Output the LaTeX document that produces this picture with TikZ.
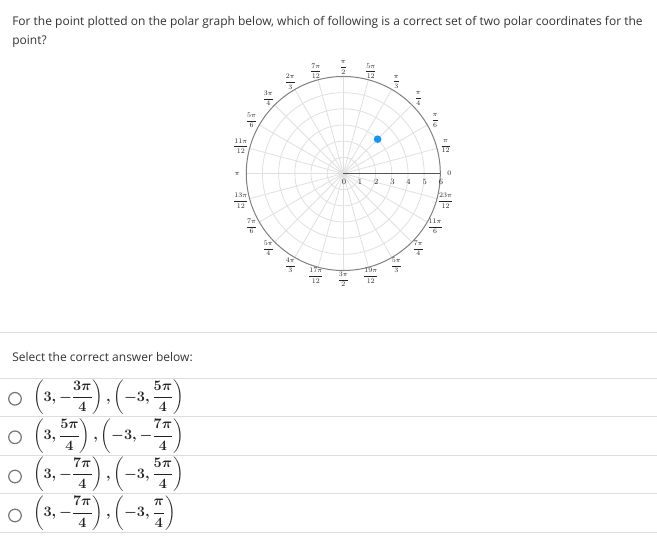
\documentclass[tikz,border=0pt]{standalone}
\usepackage{amsmath}
\usepackage[no-math]{fontspec}
\setmainfont{Open Sans}
\definecolor{txt}{HTML}{333333}
\definecolor{sepc}{HTML}{DDDDDD}
\definecolor{gridc}{HTML}{E0E0E0}
\definecolor{outerc}{HTML}{808080}
\definecolor{axisc}{HTML}{555555}
\definecolor{dotc}{RGB}{20,150,240}
\definecolor{radioc}{HTML}{777777}
\definecolor{mathc}{HTML}{222222}
\begin{document}
\begin{tikzpicture}[x=1pt,y=-1pt,
  every node/.style={inner sep=0pt, outer sep=0pt},
  qtext/.style={font=\fontsize{12}{15}\selectfont, text=txt, anchor=base west},
  sepline/.style={draw=sepc, line width=1.2pt},
  gridline/.style={draw=gridc, line width=0.8pt},
  outerline/.style={draw=outerc, line width=1pt},
  axisline/.style={draw=axisc, line width=1.4pt},
  alab/.style={font=\fontsize{7}{8}\selectfont, text=black!85},
  rlab/.style={font=\fontsize{8.5}{9}\selectfont, text=black!85},
  radio/.style={circle, draw=radioc, line width=1.2pt, minimum size=12.6pt},
  ans/.style={font=\fontsize{13.9}{16}\selectfont\boldmath, text=mathc, anchor=west}]
\useasboundingbox (0,0) rectangle (657,537);
\fill[white] (0,0) rectangle (657,537);

% question
\node[qtext] (q1) at (12.3,25.8) {For the point plotted on the polar graph below, which of following is a correct set of two polar coordinates for the};
\node[qtext] (q2) at (12.3,44.3) {point?};

% polar graph
\def\U{16.17}
\begin{scope}[shift={(343.3,173.5)}, yscale=-1]
  \foreach \r in {1,...,5} \draw[gridline] (0,0) circle[radius=\r*\U];
  \foreach \a in {0,15,...,345} \draw[gridline] (0,0) -- (\a:6*\U);
  \draw[outerline] (0,0) circle[radius=6*\U];
  \draw[axisline] (0,0) -- (0:6*\U);
  \foreach \a/\t in {0/0, 15/{\dfrac{\pi}{12}}, 30/{\dfrac{\pi}{6}}, 45/{\dfrac{\pi}{4}},
      60/{\dfrac{\pi}{3}}, 75/{\dfrac{5\pi}{12}}, 90/{\dfrac{\pi}{2}}, 105/{\dfrac{7\pi}{12}},
      120/{\dfrac{2\pi}{3}}, 135/{\dfrac{3\pi}{4}}, 150/{\dfrac{5\pi}{6}}, 165/{\dfrac{11\pi}{12}},
      180/{\pi}, 195/{\dfrac{13\pi}{12}}, 210/{\dfrac{7\pi}{6}}, 225/{\dfrac{5\pi}{4}},
      240/{\dfrac{4\pi}{3}}, 255/{\dfrac{17\pi}{12}}, 270/{\dfrac{3\pi}{2}}, 285/{\dfrac{19\pi}{12}},
      300/{\dfrac{5\pi}{3}}, 315/{\dfrac{7\pi}{4}}, 330/{\dfrac{11\pi}{6}}, 345/{\dfrac{23\pi}{12}}}
    \node[alab] (a\a) at (\a:106) {$\t$};
  \foreach \r in {0,...,6} \node[rlab] (r\r) at (\r*\U+0.6,-8.2) {$\r$};
  \fill[dotc] (45:3*\U) circle[radius=3.8];
\end{scope}

% answers
\foreach \yy in {332.3,378.3,416.7,455.3,493.7,532.3}
  \draw[sepline] (0,\yy) -- (657,\yy);
\node[qtext] (sel) at (12.3,361.8) {Select the correct answer below:};

\node[radio] (o1) at (15,398.8) {};
\node[radio] (o2) at (15,437.3) {};
\node[radio] (o3) at (15,476.5) {};
\node[radio] (o4) at (15,515.5) {};

\node[ans] (m1) at (33,397.5) {$\left(3,-\dfrac{3\pi}{4}\right),\left(-3,\dfrac{5\pi}{4}\right)$};
\node[ans] (m2) at (33,436) {$\left(3,\dfrac{5\pi}{4}\right),\left(-3,-\dfrac{7\pi}{4}\right)$};
\node[ans] (m3) at (33,474.5) {$\left(3,-\dfrac{7\pi}{4}\right),\left(-3,\dfrac{5\pi}{4}\right)$};
\node[ans] (m4) at (33,513) {$\left(3,-\dfrac{7\pi}{4}\right),\left(-3,\dfrac{\pi}{4}\right)$};
\end{tikzpicture}
\end{document}
